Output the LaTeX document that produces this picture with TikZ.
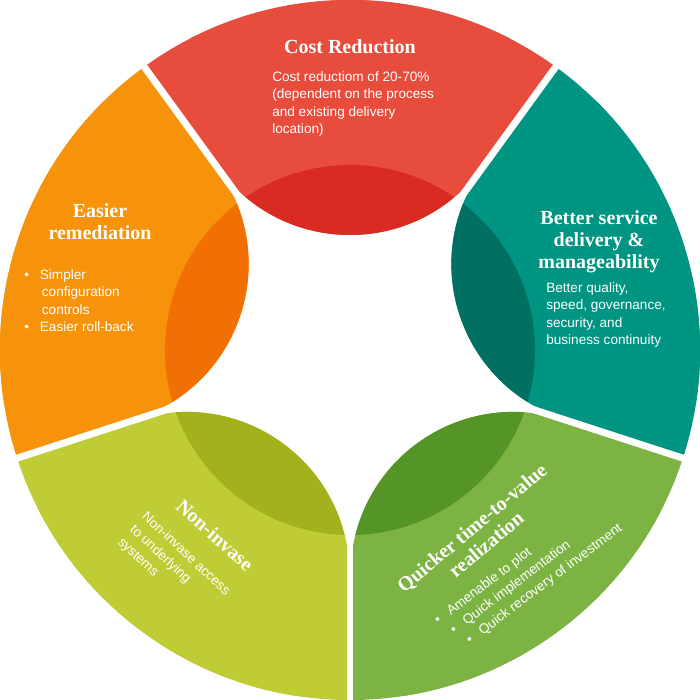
\documentclass[tikz,border=0pt]{standalone}
\usepackage{fontspec}
\setmainfont{Liberation Serif}
\setsansfont{Liberation Sans}
\definecolor{cR}{HTML}{E84C3D}\definecolor{dR}{HTML}{D92B22}
\definecolor{cT}{HTML}{009482}\definecolor{dT}{HTML}{007062}
\definecolor{cG}{HTML}{7DB343}\definecolor{dG}{HTML}{559427}
\definecolor{cL}{HTML}{C0CC36}\definecolor{dL}{HTML}{A3B11D}
\definecolor{cO}{HTML}{F7930A}\definecolor{dO}{HTML}{F26F03}
\tikzset{
 ttl/.style={text=white,font=\fontsize{15}{16.5}\selectfont\bfseries,align=center,inner sep=0pt},
 body/.style={text=white,font=\sffamily\fontsize{10.2}{13.2}\selectfont,align=left,inner sep=0pt},
}
\newcommand{\petal}[3]{%
 \begin{scope}[rotate=#1]
  \begin{scope}
   \clip (0,0) circle (350);
   \fill[#2] (54:225) -- (54:360) arc[start angle=54,end angle=126,radius=360] -- (126:225) -- cycle;
   \fill[#2] (0,278) circle (163);
  \end{scope}
  \begin{scope}
   \clip (0,0) circle (185);
   \fill[#3] (0,278) circle (163);
  \end{scope}
 \end{scope}}
\begin{document}
\begin{tikzpicture}[x=0.75pt,y=0.75pt]
\useasboundingbox (-350,-350) rectangle (350,350);
\petal{0}{cR}{dR}
\petal{-72}{cT}{dT}
\petal{-144}{cG}{dG}
\petal{144}{cL}{dL}
\petal{72}{cO}{dO}
\foreach \a in {54,126,198,270,342} \draw[white,line width=5.2pt] (0,0) -- (\a:360);
% texts
\node[ttl] (t1) at (0,303) {Cost Reduction};
\node[body,anchor=north west] (b1) at (-78,279) {Cost reductiom of 20-70\%\\(dependent on the process\\and existing delivery\\location)};
\node[ttl] (t2) at (-250,128) {Easier\\remediation};
\node[body,anchor=north west] (b2) at (-326,81) {\textbullet\hspace{0.8em}Simpler\\\hspace{1.3em}configuration\\\hspace{1.3em}controls\\\textbullet\hspace{0.8em}Easier roll-back};
\node[ttl] (t3) at (249,108) {Better service\\delivery \&\\manageability};
\node[body,anchor=north west] (b3) at (196,68) {Better quality,\\speed, governance,\\security, and\\business continuity};
\node[ttl,rotate=-42] (t4) at (-135,-185) {Non-invase};
\node[body,rotate=-43,anchor=north west] (b4) at (-202,-160) {Non-invase access\\to underlying\\systems};
\node[ttl,rotate=40] (t5) at (129,-186) {Quicker time-to-value\\realization};
\node[body,rotate=37,anchor=north west] (b5) at (82,-267) {\textbullet\hspace{0.8em}Amenable to plot\\\hspace{0.5em}\textbullet\hspace{0.8em}Quick implementation\\\hspace{1em}\textbullet\hspace{0.8em}Quick recovery of investment};
\end{tikzpicture}
\end{document}
